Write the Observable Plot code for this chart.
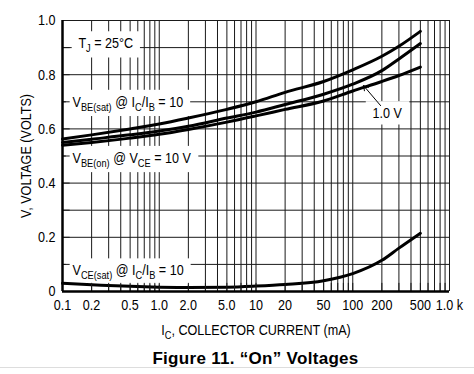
<!DOCTYPE html>
<html><head><meta charset="utf-8">
<script src="https://cdn.jsdelivr.net/npm/d3@7"></script>
<script src="https://cdn.jsdelivr.net/npm/@observablehq/plot@0.6"></script>
<style>
body{margin:0;background:#fff;}
#chart{position:absolute;left:0;top:0;}
#cap{position:absolute;left:37px;width:437px;top:349px;text-align:center;font:bold 17px 'Liberation Sans',Arial,sans-serif;letter-spacing:0.3px;color:#000;}
#edge{position:absolute;left:0;top:367px;width:474px;height:7px;border-top:1px solid #ddd;background:#fff;}
</style></head><body>
<div id="chart"></div>
<div id="cap">Figure 11. “On” Voltages</div>
<div id="edge"></div>
<script>
// collector current (mA)
const current  = [0.1, 0.2, 0.5, 1, 2, 5, 10, 20, 50, 100, 200, 300, 500];
// voltages (V)
const vbeSat   = [0.563, 0.578, 0.600, 0.618, 0.640, 0.672, 0.700, 0.735, 0.775, 0.818, 0.868, 0.905, 0.960];
const vbeOn1V  = [0.550, 0.562, 0.578, 0.592, 0.610, 0.640, 0.662, 0.690, 0.728, 0.765, 0.815, 0.858, 0.915];
const vbeOn10V = [0.540, 0.550, 0.566, 0.580, 0.598, 0.625, 0.648, 0.672, 0.703, 0.740, 0.775, 0.797, 0.828];
const vceSat   = [0.030, 0.025, 0.019, 0.016, 0.015, 0.016, 0.020, 0.026, 0.040, 0.066, 0.115, 0.160, 0.215];

// axis ticks
const xTickValues = [0.1, 0.2, 0.5, 1, 2, 5, 10, 20, 50, 100, 200, 500, 1000];
const xTickLabels = ["0.1", "0.2", "0.5", "1.0", "2.0", "5.0", "10", "20", "50", "100", "200", "500", "1.0 k"];
const yTickValues = [0, 0.2, 0.4, 0.6, 0.8, 1.0];
const yTickLabels = ["0", "0.2", "0.4", "0.6", "0.8", "1.0"];
const decades = [0.1, 1, 10, 100];
const multiples = [1, 2, 3, 4, 5, 6, 7, 8, 9];
const gridY = [0.1, 0.2, 0.3, 0.4, 0.5, 0.6, 0.7, 0.8, 0.9, 1.0];

// annotations
const annoText = ["T_{J} = 25°C", "V_{BE(sat)} @ I_{C}/I_{B} = 10", "V_{BE(on)} @ V_{CE} = 10 V", "V_{CE(sat)} @ I_{C}/I_{B} = 10", "1.0 V"];
const annoX = [0.146, 0.127, 0.127, 0.127, 160];
const annoY = [0.915, 0.699, 0.492, 0.077, 0.657];
const arrowFrom = [194, 0.686];
const arrowTo = [129, 0.760];

const gridX = decades.flatMap(d => multiples.map(m => m * d)).concat([1000]);
const series = [["VBE(sat)", vbeSat], ["VBE(on) 1.0 V", vbeOn1V], ["VBE(on) 10 V", vbeOn10V], ["VCE(sat)", vceSat]];
const rows = series.flatMap(([s, vals]) => current.map((c, i) => ({s, c, v: vals[i]})));
const annos = annoText.map((t, i) => ({t, x: annoX[i], y: annoY[i]}));
const arrows = [{x1: arrowFrom[0], y1: arrowFrom[1], x2: arrowTo[0], y2: arrowTo[1]}];

const ink = "#1a1a1a";
const chart = Plot.plot({
  width: 474, height: 344,
  marginLeft: 62, marginRight: 25, marginTop: 20, marginBottom: 53,
  style: {fontFamily: "'Liberation Sans', Arial, sans-serif", fontSize: "15px", color: "#000", background: "#fff"},
  x: {type: "log", domain: [0.1, 1000]},
  y: {domain: [0, 1]},
  marks: [
    Plot.ruleX(gridX, {stroke: ink, strokeWidth: 1}),
    Plot.ruleY(gridY, {stroke: ink, strokeWidth: 1}),
    Plot.text(annos, {x: "x", y: "y", text: "t", textAnchor: "start", fill: "#000"}),
    Plot.line(rows, {x: "c", y: "v", z: "s", curve: "monotone-x", stroke: "#000", strokeWidth: 3}),
    Plot.arrow(arrows, {x1: "x1", y1: "y1", x2: "x2", y2: "y2", stroke: "#000", strokeWidth: 1, headLength: 8}),
    Plot.ruleX(gridX, {y1: 0, y2: 0.03, stroke: ink}),
    Plot.ruleY(gridY, {x1: 0.1, x2: 0.12, stroke: ink}),
    Plot.ruleX([0.1], {stroke: "#000", strokeWidth: 2.5}),
    Plot.ruleY([0], {stroke: "#000", strokeWidth: 2.5}),
    Plot.text(xTickValues, {x: d => d, frameAnchor: "bottom", lineAnchor: "top", dy: 8, text: (d, i) => xTickLabels[i], fill: "#000"}),
    Plot.axisX(xTickValues, {tickSize: 0, tickFormat: () => "",
      label: "I_{C}, COLLECTOR CURRENT (mA)", labelAnchor: "center", labelOffset: 43, labelArrow: "none"}),
    Plot.axisY(yTickValues, {tickSize: 0, tickPadding: 7, tickFormat: d => yTickLabels[yTickValues.indexOf(d)],
      label: "V, VOLTAGE (VOLTS)", labelAnchor: "center", labelOffset: 42, labelArrow: "none"})
  ]
});
document.getElementById("chart").append(chart);

const NS = "http://www.w3.org/2000/svg";
const annoSet = new Set(annoText);
const annoEls = [...chart.querySelectorAll("text")].filter(el => annoSet.has(el.textContent));

function subscriptify(el) {
  const s = el.textContent;
  if (!s.includes("_{")) return;
  const parts = s.split(/(_\{[^}]*\})/).filter(p => p);
  el.textContent = "";
  let down = false;
  for (const p of parts) {
    const t = document.createElementNS(NS, "tspan");
    if (p.startsWith("_{")) {
      t.textContent = p.slice(2, -1);
      t.setAttribute("font-size", "11");
      if (!down) t.setAttribute("dy", "4");
      down = true;
    } else {
      t.textContent = p;
      if (down) t.setAttribute("dy", "-4");
      down = false;
    }
    el.appendChild(t);
  }
}
chart.querySelectorAll("text").forEach(el => {
  subscriptify(el);
  // narrow (condensed) lettering, like the original Helvetica Narrow
  const tr = el.getAttribute("transform");
  if (tr) el.setAttribute("transform", tr + " scale(0.84,1)");
});
annoEls.forEach(el => {
  const b = el.getBBox();
  const r = document.createElementNS(NS, "rect");
  r.setAttribute("x", b.x - 8); r.setAttribute("y", b.y - 3);
  r.setAttribute("width", b.width + 16); r.setAttribute("height", b.height + 6);
  r.setAttribute("fill", "#fff"); r.setAttribute("stroke", "none");
  const tr = el.getAttribute("transform");
  if (tr) r.setAttribute("transform", tr);
  el.parentNode.insertBefore(r, el);
});
</script>
</body></html>
